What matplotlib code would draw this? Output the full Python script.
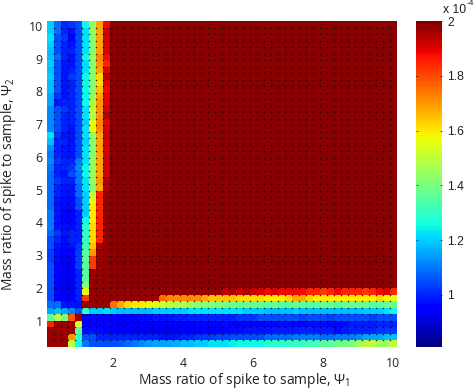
import numpy as np
import matplotlib
matplotlib.use('Agg')
import matplotlib.pyplot as plt

plt.rcParams['font.family'] = ['Open Sans', 'DejaVu Sans']
plt.rcParams['mathtext.fontset'] = 'custom'
plt.rcParams['mathtext.rm'] = 'Open Sans'
plt.rcParams['mathtext.it'] = 'Open Sans'

# values in units of 1e-4
fill_value = 1.99
# columns 0-8, rows 49 (top) down to 6
left_rows = [
    [1.2, 1.08, 1.0, 1.02, 1.05, 1.25, 1.45, 1.68, 1.88],
    [1.2, 1.08, 1.0, .98, 1.05, 1.22, 1.45, 1.68, 1.92],
    [1.22, 1.05, 1.02, .96, 1.05, 1.22, 1.42, 1.68, 1.92],
    [1.2, 1.05, 1.0, .98, 1.05, 1.22, 1.42, 1.68, 1.92],
    [1.18, 1.05, 1.0, 1.0, 1.05, 1.22, 1.42, 1.68, 1.92],
    [1.18, 1.08, 1.0, .98, 1.05, 1.25, 1.45, 1.72, 1.88],
    [1.2, 1.05, .98, .98, 1.05, 1.22, 1.42, 1.70, 1.85],
    [1.18, 1.05, .98, 1.0, 1.05, 1.22, 1.42, 1.68, 1.9],
    [1.2, 1.05, .98, 1.02, 1.05, 1.25, 1.42, 1.62, 1.94],
    [1.18, 1.05, .98, 1.0, 1.05, 1.25, 1.42, 1.62, 1.9],
    [1.18, 1.05, .98, 1.0, 1.05, 1.25, 1.42, 1.65, 1.88],
    [1.15, 1.02, .98, 1.0, 1.05, 1.25, 1.45, 1.68, 1.9],
    [1.15, .98, 1.0, 1.0, 1.05, 1.25, 1.48, 1.70, 1.9],
    [1.12, 1.05, 1.02, 1.0, 1.05, 1.22, 1.5, 1.70, 1.92],
    [1.12, 1.05, 1.0, 1.0, 1.05, 1.22, 1.48, 1.70, 1.95],
    [1.12, 1.05, 1.0, 1.0, 1.05, 1.2, 1.55, 1.72, 1.9],
    [1.12, 1.05, 1.0, .98, 1.05, 1.22, 1.58, 1.72, 1.92],
    [1.22, 1.02, .98, .98, 1.05, 1.22, 1.45, 1.68, 1.92],
    [1.18, 1.0, 1.0, .98, 1.05, 1.2, 1.42, 1.68, 1.92],
    [1.12, 1.0, .98, .98, 1.05, 1.22, 1.42, 1.68, 1.92],
    [1.1, 1.0, .98, .98, 1.05, 1.22, 1.42, 1.68, 1.92],
    [1.12, 1.02, 1.0, 1.0, 1.1, 1.22, 1.45, 1.68, 1.92],
    [1.1, 1.0, 1.0, 1.02, 1.12, 1.25, 1.45, 1.68, 1.92],
    [1.08, 1.0, .98, 1.05, 1.1, 1.25, 1.45, 1.68, 1.92],
    [1.08, 1.02, 1.0, 1.0, 1.1, 1.22, 1.45, 1.70, 1.95],
    [1.08, 1.0, .98, .98, 1.08, 1.22, 1.42, 1.68, 1.95],
    [1.08, 1.0, .98, .98, 1.08, 1.2, 1.5, 1.85, 1.98],
    [1.08, .98, .97, .97, 1.05, 1.2, 1.55, 1.85, 1.98],
    [1.08, .98, .97, .97, 1.05, 1.2, 1.6, 1.85, 1.98],
    [1.1, .98, .96, .96, 1.0, 1.2, 1.6, 1.85, 1.98],
    [1.1, .98, .96, .96, 1.0, 1.25, 1.6, 1.85, 1.98],
    [1.1, .98, .97, .97, 1.0, 1.28, 1.62, 1.85, 1.98],
    [1.08, 1.02, .98, 1.0, 1.0, 1.3, 1.62, 1.85, 1.98],
    [1.05, 1.0, .97, 1.0, 1.0, 1.3, 1.62, 1.85, 1.98],
    [1.05, .98, .96, .98, 1.02, 1.32, 1.65, 1.95, 1.98],
    [1.03, .97, .95, .96, 1.03, 1.35, 1.7, 1.97, 1.98],
    [1.03, .97, .95, .96, 1.03, 1.35, 1.82, 1.97, 1.98],
    [1.05, .96, .94, .95, 1.03, 1.35, 1.82, 1.97, 1.98],
    [1.05, .96, .94, .94, 1.0, 1.35, 1.97, 1.98, 1.98],
    [1.05, .96, .93, .94, 1.0, 1.35, 1.97, 1.98, 1.98],
    [1.05, .96, .93, .94, 1.0, 1.42, 1.97, 1.98, 1.98],
    [1.05, .96, .93, .94, 1.0, 1.55, 1.97, 1.98, 1.98],
    [1.05, .96, .95, .95, 1.0, 1.82, 1.97, 1.98, 1.98],
    [1.08, 1.08, .98, .98, .97, 1.97, 1.98, 1.98, 1.98],
]
# columns 0-5, rows 5 down to 0
corner_rows = [
    [1.15, 1.18, 1.15, 1.12, 1.05, 1.3],
    [1.35, 1.48, 1.4, 1.78, 1.97, .94],
    [1.85, 1.97, 1.97, 1.97, 1.55, .95],
    [1.97, 1.97, 1.97, 1.97, 1.35, .97],
    [1.97, 1.97, 1.97, 1.7, 1.3, 1.05],
    [1.97, 1.97, 1.97, 1.5, 1.25, 1.1],
]
# columns 6-49
band_row0 = [1.05, 1.05, 1.05, 1.05, 1.06, 1.08, 1.1, 1.12, 1.14, 1.15, 1.15, 1.15, 1.16, 1.18, 1.18,
             1.2, 1.2, 1.22, 1.22, 1.22, 1.24, 1.25, 1.25, 1.25, 1.25, 1.28, 1.28, 1.28, 1.3, 1.3,
             1.3, 1.32, 1.32, 1.35, 1.35, 1.38, 1.38, 1.4, 1.45, 1.48, 1.5, 1.45, 1.45, 1.5]
band_row1 = [1.05, 1.0, 1.0, 1.0, 1.0, 1.0, 1.0, 1.0, 1.0, 1.0, .98, .98, .98, 1.0, 1.0,
             1.02, 1.02, 1.02, 1.04, 1.04, 1.05, 1.05, 1.05, 1.05, 1.05, 1.08, 1.08, 1.08, 1.08, 1.1,
             1.1, 1.1, 1.1, 1.08, 1.08, 1.1, 1.1, 1.1, 1.12, 1.15, 1.15, 1.15, 1.18, 1.18]
band_row2 = [.97, .97, .96, .95, .94, .94, .93, .93, .93, .93, .93, .93, .93, .94, .94,
             .95, .95, .95, .96, .96, .97, .97, .98, .98, .98, .98, .99, .99, .99, .99,
             1.0, 1.0, .99, .99, .99, .97, .99, 1.0, 1.0, 1.0, 1.0, 1.02, 1.02, 1.02]
band_row3 = [.95, .95, .96, .95, .94, .94, .95, .95, .94, .94, .94, .94, .94, .95, .95,
             .96, .96, .96, .96, .97, .96, .96, .96, .95, .95, .95, .96, .97, .97, .96,
             .96, .97, .97, .97, .96, .96, .97, .99, .99, .99, .99, 1.0, 1.0, 1.0]
band_row4 = [.96, .96, .96, .96, .96, .96, .96, .97, .97, .98, .98, .98, .99, .99, 1.0,
             1.0, 1.0, 1.0, 1.0, 1.0, 1.0, 1.02, 1.02, 1.02, 1.05, 1.05, 1.05, 1.05, 1.05, 1.05,
             1.03, 1.05, 1.05, 1.05, 1.03, 1.05, 1.05, 1.05, 1.05, 1.05, 1.03, 1.05, 1.05, 1.05]
band_row5 = [1.2, 1.2, 1.22, 1.2, 1.18, 1.18, 1.18, 1.18, 1.18, 1.2, 1.2, 1.2, 1.2, 1.2, 1.22,
             1.22, 1.22, 1.22, 1.22, 1.22, 1.22, 1.22, 1.2, 1.2, 1.2, 1.18, 1.18, 1.18, 1.18, 1.2,
             1.18, 1.18, 1.18, 1.18, 1.18, 1.18, 1.18, 1.18, 1.18, 1.2, 1.2, 1.2, 1.22, 1.25]
band_row6 = [1.97, 1.97, 1.97, 1.75, 1.68, 1.62, 1.6, 1.6, 1.58, 1.55, 1.52, 1.5, 1.48, 1.48, 1.45,
             1.42, 1.42, 1.42, 1.4, 1.4, 1.38, 1.38, 1.38, 1.38, 1.38, 1.35, 1.38, 1.35, 1.35, 1.38,
             1.35, 1.35, 1.35, 1.38, 1.38, 1.35, 1.38, 1.38, 1.38, 1.38, 1.35, 1.35, 1.38, 1.38]
band_row7 = [1.98, 1.98, 1.98, 1.98, 1.98, 1.98, 1.98, 1.98, 1.98, 1.97, 1.75, 1.72, 1.72, 1.72, 1.72,
             1.72, 1.68, 1.65, 1.65, 1.65, 1.65, 1.62, 1.62, 1.62, 1.62, 1.6, 1.6, 1.6, 1.62, 1.68,
             1.68, 1.62, 1.6, 1.6, 1.6, 1.6, 1.6, 1.6, 1.6, 1.6, 1.6, 1.62, 1.58, 1.55]
band_row8 = [1.98, 1.98, 1.98, 1.98, 1.98, 1.98, 1.98, 1.98, 1.98, 1.98, 1.98, 1.97, 1.97, 1.97, 1.97,
             1.97, 1.97, 1.97, 1.97, 1.93, 1.95, 1.92, 1.95, 1.92, 1.9, 1.88, 1.9, 1.88, 1.88, 1.88,
             1.88, 1.85, 1.85, 1.82, 1.85, 1.88, 1.85, 1.85, 1.85, 1.82, 1.85, 1.88, 1.9, 1.85]
band_rows = [band_row0, band_row1, band_row2, band_row3, band_row4,
             band_row5, band_row6, band_row7, band_row8]

x_ticks = [2, 4, 6, 8, 10]
y_ticks = [1, 2, 3, 4, 5, 6, 7, 8, 9, 10]
cbar_ticks = [1, 1.2, 1.4, 1.6, 1.8, 2]
cbar_labels = ['1', '1.2', '1.4', '1.6', '1.8', '2']

Z = np.full((50, 50), fill_value)
for i, row in enumerate(left_rows):
    Z[49 - i, :9] = row
for i, row in enumerate(corner_rows):
    Z[5 - i, :6] = row
for i, row in enumerate(band_rows):
    Z[i, 6:] = row

x_edges = np.linspace(0.1, 10.1, 51)
y_edges = np.linspace(0.2, 10.15, 51)

W, H = 474.0, 389.0
fig = plt.figure(figsize=(W / 100, H / 100), dpi=100)
ax = fig.add_axes([46.7 / W, 1 - 347 / H, 350 / W, 326 / H])
mesh = ax.pcolormesh(x_edges, y_edges, Z, cmap='jet', vmin=0.81, vmax=2)
xx, yy = np.meshgrid(x_edges[1:-1], y_edges[1:-1])
ax.plot(xx.ravel(), yy.ravel(), ls='none', marker='.', ms=2.2, mew=0, color='black', alpha=0.8)
ax.set_xlim(0.1, 10.1)
ax.set_ylim(0.2, 10.15)
ax.set_xticks(x_ticks)
ax.set_yticks(y_ticks)
ax.tick_params(length=0, labelsize=8.8, colors='#222222')
ax.tick_params(axis='x', pad=7)
ax.tick_params(axis='y', pad=3)
for s in ax.spines.values():
    s.set_visible(False)
fig.text(244 / W, 1 - 381 / H, r'Mass ratio of spike to sample, $\Psi_1$', fontsize=10, color='#222222',
         ha='center', va='center')
fig.text(9 / W, 1 - 184 / H, r'Mass ratio of spike to sample, $\Psi_2$', fontsize=10, color='#222222',
         ha='center', va='center', rotation=90)

cax = fig.add_axes([416 / W, 1 - 347 / H, 26 / W, 326 / H])
cb = fig.colorbar(mesh, cax=cax)
cb.set_ticks(cbar_ticks)
cb.set_ticklabels(cbar_labels)
cb.outline.set_visible(False)
cax.tick_params(length=1.5, width=0.5, direction='in', labelsize=8.8, pad=4, colors='#222222')
cax.yaxis.set_tick_params(left=True, right=True)
for lab in cax.get_yticklabels():
    lab.set_family(['Liberation Sans'])
fig.text(443 / W, 1 - 10 / H, 'x 10', fontsize=8.8, family=['Liberation Sans'], color='#222222',
         ha='left', va='center')
fig.text(467 / W, 1 - 3.5 / H, '-4', fontsize=6, family=['Liberation Sans'], color='#222222',
         ha='left', va='center')

fig.savefig('out.png', dpi=100)
